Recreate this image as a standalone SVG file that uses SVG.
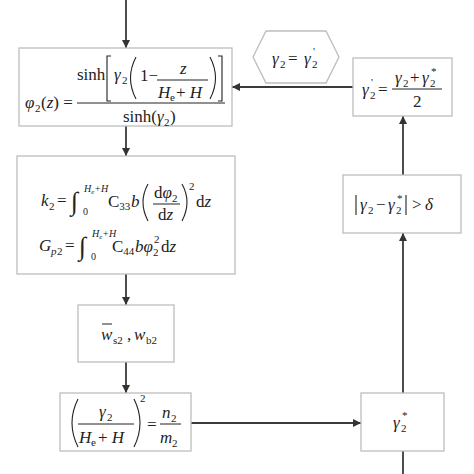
<svg xmlns="http://www.w3.org/2000/svg" width="474" height="474" viewBox="0 0 474 474" font-family="'Liberation Serif', 'Times New Roman', serif">
<defs>
<marker id="ah" viewBox="0 0 10 10" refX="10" refY="5" markerWidth="8" markerHeight="8" markerUnits="userSpaceOnUse" orient="auto">
<path d="M0,0 L10,5 L0,10 Z" fill="#333"/>
</marker>
<style>
.box{fill:#fff;stroke:#bdbdbd;stroke-width:1.3}
.ln{stroke:#3a3a3a;stroke-width:1.8;fill:none}
text{font-family:"Liberation Serif","Times New Roman",serif;fill:#222;font-size:17px}
.i{font-style:italic}
.s{font-size:11px}
.l{font-size:10px}
.bar{stroke:#222;stroke-width:1}
.fen{stroke:#222;stroke-width:1.1;fill:none}
</style>
</defs>
<rect width="474" height="474" fill="#fff"/>

<g id="connectors">
<line class="ln" x1="126" y1="0" x2="126" y2="48" marker-end="url(#ah)"/>
<line class="ln" x1="126" y1="126" x2="126" y2="156" marker-end="url(#ah)"/>
<line class="ln" x1="126" y1="274" x2="126" y2="305" marker-end="url(#ah)"/>
<line class="ln" x1="126" y1="362" x2="126" y2="393" marker-end="url(#ah)"/>
<line class="ln" x1="191" y1="423" x2="361" y2="423" marker-end="url(#ah)"/>
<line class="ln" x1="403" y1="393" x2="403" y2="233" marker-end="url(#ah)"/>
<line class="ln" x1="403" y1="175" x2="403" y2="116" marker-end="url(#ah)"/>
<line class="ln" x1="353" y1="87" x2="232" y2="87" marker-end="url(#ah)"/>
<line class="ln" x1="403" y1="451" x2="403" y2="474"/>
</g>

<g id="phi">
<rect class="box" x="19" y="48" width="213" height="78"/>
<text class="i" x="25" y="108">φ</text>
<text class="s" x="35" y="112">2</text>
<text x="41" y="108">(<tspan class="i">z</tspan>) =</text>
<line class="bar" x1="77" y1="103" x2="225" y2="103"/>
<text x="77" y="80">sinh</text>
<path class="fen" d="M111,56 L107,56 L107,101 L111,101"/>
<text class="i" x="114" y="80">γ</text>
<text class="s" x="122" y="84">2</text>
<path class="fen" d="M136,57 Q125,78 136,99"/>
<text x="140" y="81">1−</text>
<text class="i" x="180" y="74">z</text>
<line class="bar" x1="157" y1="80" x2="208" y2="80"/>
<text class="i" x="158" y="98">H</text>
<text class="s" x="170" y="101">e</text>
<text x="176" y="98">+ <tspan class="i">H</tspan></text>
<path class="fen" d="M210,57 Q221,78 210,99"/>
<path class="fen" d="M218,56 L222,56 L222,101 L218,101"/>
<text x="123" y="122">sinh(<tspan class="i">γ</tspan></text>
<text class="s" x="164" y="126">2</text>
<text x="170" y="122">)</text>
</g>

<g id="hex">
<polygon points="253,57 266,31 326,31 339,57 326,83 266,83" fill="#fff" stroke="#bdbdbd" stroke-width="1.3"/>
<text class="i" x="272" y="64">γ</text>
<text class="s" x="280" y="68">2</text>
<text x="288" y="64">=</text>
<text class="i" x="304" y="64">γ</text>
<text class="s" x="312" y="68">2</text>
<text class="s" x="313" y="55">'</text>
</g>

<g id="gammaprime">
<rect class="box" x="353" y="58" width="99" height="58"/>
<text class="i" x="362" y="95">γ</text>
<text class="s" x="370" y="99">2</text>
<text class="s" x="371" y="86">'</text>
<text x="378" y="95">=</text>
<text class="i" x="395" y="83">γ</text>
<text class="s" x="403" y="87">2</text>
<text x="410" y="83">+</text>
<text class="i" x="422" y="83">γ</text>
<text class="s" x="430" y="87">2</text>
<text class="s" x="431" y="75">*</text>
<line class="bar" x1="392" y1="89" x2="442" y2="89"/>
<text x="413" y="107">2</text>
</g>

<g id="integrals">
<rect class="box" x="17" y="156" width="218" height="118"/>
<text class="i" x="41" y="206">k</text>
<text class="s" x="49" y="210">2</text>
<text x="57" y="206">=</text>
<text x="71" y="210" style="font-size:26px">∫</text>
<text class="i l" x="84" y="192">H<tspan dy="2" style="font-size:7px">e</tspan><tspan dy="-2">+H</tspan></text>
<text class="l" x="83" y="215">0</text>
<text x="108" y="207">C<tspan class="s" dy="3">33</tspan></text>
<text class="i" x="131" y="207">b</text>
<path class="fen" d="M148,184 Q138,202 148,221"/>
<text x="154" y="198">d<tspan class="i">φ</tspan></text>
<text class="s" x="172" y="202">2</text>
<line class="bar" x1="153" y1="204" x2="180" y2="204"/>
<text x="158" y="220">d<tspan class="i">z</tspan></text>
<path class="fen" d="M182,184 Q192,202 182,221"/>
<text class="s" x="189" y="190">2</text>
<text x="196" y="207">d<tspan class="i">z</tspan></text>

<text class="i" x="39" y="251">G</text>
<text class="i s" x="51" y="255">p</text>
<text class="s" x="57" y="255">2</text>
<text x="65" y="251">=</text>
<text x="79" y="255" style="font-size:26px">∫</text>
<text class="i l" x="92" y="237">H<tspan dy="2" style="font-size:7px">e</tspan><tspan dy="-2">+H</tspan></text>
<text class="l" x="91" y="260">0</text>
<text x="112" y="252">C<tspan class="s" dy="3">44</tspan></text>
<text class="i" x="135" y="252">bφ</text>
<text class="s" x="153" y="256">2</text>
<text class="s" x="154" y="243">2</text>
<text x="161" y="252">d<tspan class="i">z</tspan></text>
</g>

<g id="w">
<rect class="box" x="78" y="305" width="96" height="57"/>
<line class="bar" x1="102" y1="324" x2="112" y2="324"/>
<text class="i" x="101" y="340">w</text>
<text class="s" x="113" y="344">s2</text>
<text x="127" y="340">,</text>
<text class="i" x="134" y="340">w</text>
<text class="s" x="146" y="344">b2</text>
</g>

<g id="ratio">
<rect class="box" x="60" y="393" width="131" height="58"/>
<path class="fen" d="M78,399 Q66,423 78,447"/>
<text class="i" x="99" y="417">γ</text>
<text class="s" x="107" y="421">2</text>
<line class="bar" x1="78" y1="424" x2="134" y2="424"/>
<text class="i" x="79" y="443">H</text>
<text class="s" x="91" y="446">e</text>
<text x="98" y="443">+ <tspan class="i">H</tspan></text>
<path class="fen" d="M134,399 Q146,423 134,447"/>
<text class="s" x="140" y="402">2</text>
<text x="147" y="430">=</text>
<text class="i" x="162" y="418">n</text>
<text class="s" x="171" y="422">2</text>
<line class="bar" x1="160" y1="424" x2="181" y2="424"/>
<text class="i" x="160" y="443">m</text>
<text class="s" x="172" y="447">2</text>
</g>

<g id="delta">
<rect class="box" x="343" y="175" width="118" height="58"/>
<line class="fen" x1="356" y1="195" x2="356" y2="215"/>
<text class="i" x="360" y="210">γ</text>
<text class="s" x="368" y="214">2</text>
<text x="376" y="210">−</text>
<text class="i" x="388" y="210">γ</text>
<text class="s" x="396" y="214">2</text>
<text class="s" x="397" y="202">*</text>
<line class="fen" x1="406" y1="195" x2="406" y2="215"/>
<text x="412" y="210">&gt;</text>
<text class="i" x="425" y="210">δ</text>
</g>

<g id="gammastar">
<rect class="box" x="361" y="393" width="83" height="58"/>
<text class="i" x="393" y="428">γ</text>
<text class="s" x="401" y="432">2</text>
<text class="s" x="402" y="419">*</text>
</g>
</svg>
